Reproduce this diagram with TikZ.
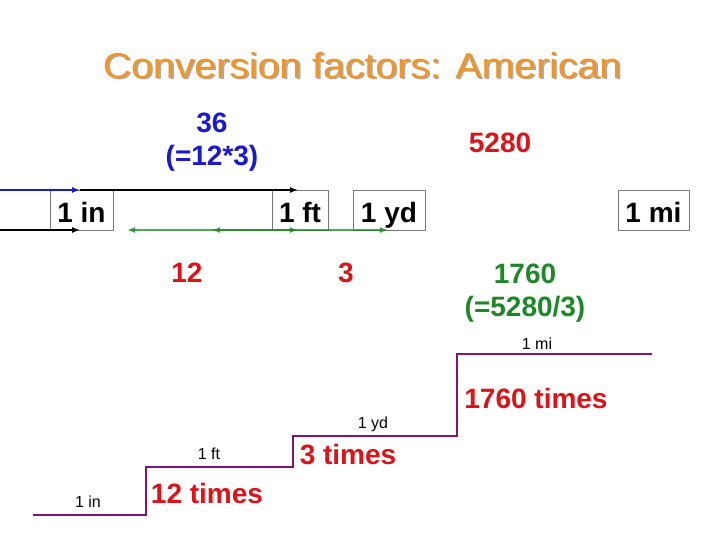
\documentclass[tikz,border=0pt]{standalone}
\usepackage{fontspec}
\setmainfont{Liberation Sans}
\usetikzlibrary{arrows.meta}
\definecolor{ttlorange}{RGB}{240,150,40}
\definecolor{ttlshadow}{RGB}{170,170,170}
\definecolor{nblue}{RGB}{25,25,205}
\definecolor{nred}{RGB}{220,20,25}
\definecolor{ngreen}{RGB}{30,135,40}
\definecolor{stair}{RGB}{130,20,115}
\definecolor{boxgray}{RGB}{120,120,120}
\tikzset{
  ttl/.style={font=\fontsize{36}{40}\selectfont,inner sep=0pt,anchor=base,xscale=1.09},
  unitbox/.style={draw=boxgray,line width=0.8pt,inner sep=0pt,minimum height=40pt,text height=24pt,text depth=0pt,font=\fontsize{28}{30}\selectfont\bfseries},
  bignum/.style={font=\fontsize{28}{33}\selectfont\bfseries,inner sep=0pt,align=center},
  small/.style={font=\fontsize{16}{18}\selectfont,inner sep=0pt},
  arr/.style={line width=1.3pt,-{Latex[length=8pt,width=6pt]}},
  darr/.style={line width=1.3pt,draw opacity=0.75,fill opacity=0.75,{Latex[length=8pt,width=6pt]}-{Latex[length=8pt,width=6pt]}},
}
\begin{document}
\begin{tikzpicture}[x=1pt,y=-1pt]
\useasboundingbox (0,0) rectangle (719,539);
% title
\node[ttl,text=ttlshadow] at (363.8,79.8) {Conversion factors: American};
\node (title) [ttl,text=ttlorange] at (362,78) {Conversion factors: American};
% boxes
\node (in) [unitbox,minimum width=63pt] at (81.5,210) {1 in};
\node (ft) [unitbox,minimum width=56pt] at (300,210) {1 ft};
\node (yd) [unitbox,minimum width=72pt] at (389,210) {1 yd};
\node (mi) [unitbox,minimum width=71pt] at (653.5,210) {1 mi};
% numbers
\node (n36) [bignum,text=nblue] at (212,142.5) {36\\(=12*3)};
\node (n5280) [bignum,text=nred] at (500,143) {5280};
\node (n12) [bignum,text=nred] at (187,273) {12};
\node (n3) [bignum,text=nred] at (346,273) {3};
\node (n1760) [bignum,text=ngreen] at (525,293) {1760\\(=5280/3)};
% arrow coordinates
\coordinate (t0) at (0,190);
\coordinate (t1) at (80,190);
\coordinate (t2) at (298,190);
\coordinate (b0) at (0,230);
\coordinate (b1) at (80,230);
\coordinate (g0) at (127,230);
\coordinate (g1) at (298,230);
\coordinate (g2) at (212,230);
\coordinate (g3) at (388,230);
\draw[arr,draw=black] (t1) -- (t2);
\draw[arr,draw=nblue] (t0) -- (t1);
\draw[arr,draw=black] (b0) -- (b1);
\draw[darr,draw=ngreen] (g0) -- (g1);
\draw[darr,draw=ngreen] (g2) -- (g3);
% staircase
\draw[stair,line width=2.5pt] (33,515) -- (146,515) -- (146,467) -- (293,467) -- (293,436) -- (457,436) -- (457,354) -- (652,354);
\node (lin) [small] at (88,502) {1 in};
\node (lft) [small] at (209,454) {1 ft};
\node (lyd) [small] at (373,424) {1 yd};
\node (lmi) [small] at (537,344) {1 mi};
\node (x12) [bignum,text=nred] at (207,493) {12 times};
\node (x3) [bignum,text=nred] at (348,455) {3 times};
\node (x1760) [bignum,text=nred] at (536,398) {1760 times};
\end{tikzpicture}
\end{document}
